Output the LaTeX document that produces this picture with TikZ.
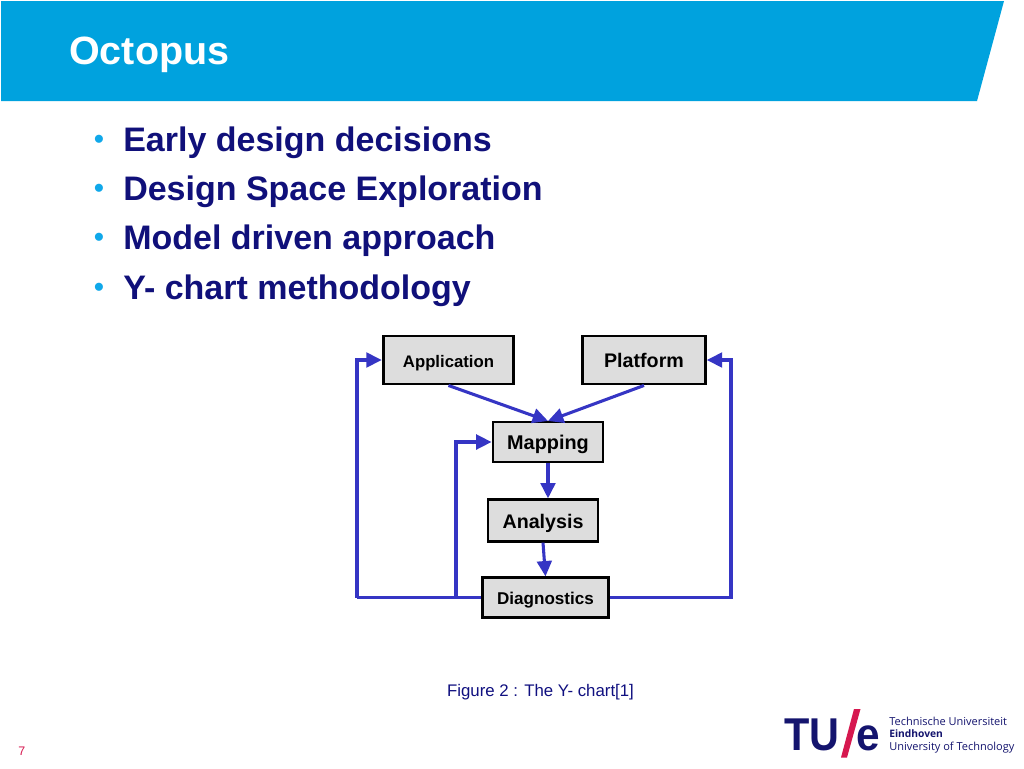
\documentclass[tikz,border=0pt]{standalone}
\usepackage{fontspec}
\setmainfont{Liberation Sans}
\newfontfamily\logofont{Open Sans}
\usetikzlibrary{arrows.meta}
\definecolor{tuecyan}{HTML}{00A2DE}
\definecolor{bulletcyan}{HTML}{10A8EA}
\definecolor{navytext}{HTML}{10107A}
\definecolor{flowblue}{HTML}{3535C4}
\definecolor{boxgrey}{HTML}{DDDDDD}
\definecolor{capblue}{HTML}{101080}
\definecolor{logonavy}{HTML}{14146E}
\definecolor{logored}{HTML}{D6184F}
\tikzset{
  x=0.75pt,y=-0.75pt,
  flowbox/.style={draw=black,line width=2.2pt,fill=boxgrey,inner sep=0pt,text=black,text depth=0pt},
  flow/.style={draw=flowblue,line width=2.3pt,-{Triangle[length=11.5pt,width=11pt]}},
  flowplain/.style={draw=flowblue,line width=2.3pt},
  bulletmark/.style={anchor=base,text=bulletcyan,font=\fontsize{21}{25}\selectfont\bfseries},
  bullettext/.style={anchor=base west,text=navytext,inner sep=0pt,font=\fontsize{25.5}{30}\selectfont\bfseries},
  logotext/.style={anchor=base west,inner sep=0pt,text=logonavy,font=\logofont\fontsize{8.25}{9}\selectfont},
  logobig/.style={anchor=base west,inner sep=0pt,text=logonavy,font=\fontsize{34.5}{38}\selectfont\bfseries},
}
\begin{document}
\begin{tikzpicture}
\useasboundingbox (0,0) rectangle (1024,768);
\fill[white] (0,0) rectangle (1024,768);
\fill[tuecyan] (1,1) -- (1004,1) -- (977,101) -- (1,101) -- cycle;
\node[anchor=base west,inner sep=0pt,text=white,font=\fontsize{29.6}{35}\selectfont\bfseries] (title) at (69,64) {Octopus};

\node[bulletmark] (b1) at (99,148.5) {•};
\node[bullettext] (t1) at (123,151) {Early design decisions};
\node[bulletmark] (b2) at (99,197.5) {•};
\node[bullettext] (t2) at (123,200) {Design Space Exploration};
\node[bulletmark] (b3) at (99,246.5) {•};
\node[bullettext] (t3) at (123,249) {Model driven approach};
\node[bulletmark] (b4) at (99,296.5) {•};
\node[bullettext] (t4) at (123,299) {Y- chart methodology};

\node[flowbox,minimum width=98pt,minimum height=36pt,text height=10.5pt,font=\bfseries\fontsize{12.55}{15}\selectfont] (app) at (448.5,360) {Application};
\node[flowbox,minimum width=92pt,minimum height=36pt,text height=11.5pt,font=\bfseries\fontsize{14.75}{18}\selectfont] (plat) at (644,360) {Platform};
\node[flowbox,minimum width=82.5pt,minimum height=30pt,text height=11pt,font=\bfseries\fontsize{14.9}{18}\selectfont] (map) at (548,442) {Mapping};
\node[flowbox,minimum width=82.5pt,minimum height=31pt,text height=11.8pt,font=\bfseries\fontsize{14.75}{18}\selectfont] (ana) at (543,520.5) {Analysis};
\node[flowbox,minimum width=95pt,minimum height=29.5pt,text height=11.2pt,font=\bfseries\fontsize{12.8}{15}\selectfont] (diag) at (545.5,597.5) {Diagnostics};

\coordinate (mapin) at (548,421);
\coordinate (diagL1) at (456,597.5);
\coordinate (diagL2) at (357,597.5);
\coordinate (mapL) at (456,442);
\coordinate (appL) at (357,360);
\coordinate (diagR) at (731,597.5);
\coordinate (platR) at (731,360);

\draw[flow] (app.south) -- (mapin);
\draw[flow] (plat.south) -- (mapin);
\draw[flow] (map.south) -- (map.south |- ana.north);
\draw[flow] (ana.south) -- (diag.north);
\draw[flowplain,line join=miter] (diag.west) -- (diagL2);
\draw[flow,line join=miter] (diagL2) -- (appL) -- (app.west);
\draw[flow,line join=miter] (diagL1) -- (mapL) -- (map.west);
\draw[flow,line join=miter] (diag.east) -- (diagR) -- (platR) -- (plat.east);

\node[anchor=base,inner sep=0pt,text=capblue,font=\fontsize{12.6}{15}\selectfont] (cap) at (540.5,696) {Figure 2 : The Y- chart[1]};
\node[anchor=base west,inner sep=0pt,text=logored,font=\fontsize{9.3}{11}\selectfont] (page) at (18,755) {7};

% TU/e logo
\node[logobig] (tu) at (784,750) {\scalebox{0.9}[1]{TU}};
\fill[logored] (854,709) -- (860.5,709) -- (847,757.5) -- (841,757.5) -- cycle;
\node[logobig] (e) at (856,750) {\scalebox{0.92}[1]{e}};
\node[logotext] (l1) at (889,725) {Technische Universiteit};
\node[logotext,font=\logofont\bfseries\fontsize{7.7}{9}\selectfont] (l2) at (889,737) {Eindhoven};
\node[logotext] (l3) at (889,750) {University of Technology};
\end{tikzpicture}
\end{document}
